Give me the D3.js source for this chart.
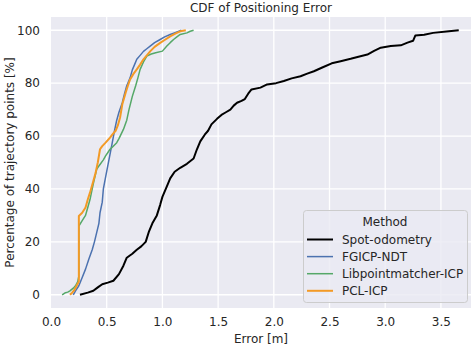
<!DOCTYPE html>
<html><head><meta charset="utf-8">
<script src="https://cdn.jsdelivr.net/npm/d3@7"></script>
<style>body{margin:0;background:#fff}svg{display:block}text{font-family:"DejaVu Sans",sans-serif}</style>
</head><body><svg id="c" width="474" height="348"></svg>
<script>
const seriesNames = ["Spot-odometry","FGICP-NDT","Libpointmatcher-ICP","PCL-ICP"];
const seriesColors = ["#000000","#4c72b0","#55a868","#f39a26"];
const spotOdometry = [[0.26,0],[0.33,0.8],[0.38,1.5],[0.42,2.8],[0.46,4],[0.51,4.6],[0.56,5.3],[0.61,7.8],[0.65,11],[0.68,14],[0.73,15.5],[0.77,17],[0.81,18.3],[0.85,20],[0.88,24],[0.91,27],[0.95,30],[0.98,34],[1.0,37],[1.04,41],[1.07,44],[1.11,46.5],[1.16,48],[1.22,49.5],[1.28,51.5],[1.31,55],[1.34,58],[1.38,60.5],[1.41,62],[1.44,64.4],[1.49,66.5],[1.53,68],[1.57,69],[1.61,70],[1.64,71.5],[1.67,72.6],[1.71,73.3],[1.74,74],[1.77,76],[1.80,77.6],[1.88,78.3],[1.94,79.5],[2.02,80],[2.09,80.8],[2.16,81.8],[2.24,82.6],[2.30,83.6],[2.36,84.5],[2.44,86],[2.52,87.5],[2.60,88.3],[2.69,89.2],[2.76,90],[2.84,90.8],[2.90,92.2],[2.96,93.4],[3.05,94],[3.14,94.3],[3.20,95.3],[3.25,96],[3.27,98],[3.35,98.3],[3.43,99],[3.55,99.5],[3.66,100]];
const fgicpNdt = [[0.20,0],[0.22,1.5],[0.25,3.4],[0.28,6.5],[0.31,9.7],[0.34,13.5],[0.37,17],[0.39,20],[0.41,23.5],[0.43,27],[0.44,31],[0.46,35],[0.47,40],[0.49,44.5],[0.52,51],[0.55,57.5],[0.57,62],[0.59,66],[0.61,69],[0.64,72.6],[0.66,76],[0.68,79],[0.71,82],[0.73,85],[0.75,87],[0.77,89],[0.80,90.5],[0.83,92],[0.86,93],[0.89,94],[0.93,95.3],[0.98,96.5],[1.02,97.5],[1.07,98.4],[1.12,99.2],[1.17,100]];
const libpointmatcherIcp = [[0.10,0],[0.13,0.8],[0.15,1],[0.17,1.5],[0.20,2.5],[0.22,3.4],[0.24,5],[0.25,7],[0.25,26],[0.28,28],[0.31,30],[0.33,33],[0.35,36],[0.38,42],[0.41,47.4],[0.43,48.7],[0.47,51],[0.49,52.5],[0.53,55],[0.55,55.8],[0.59,57.5],[0.61,59],[0.65,62.5],[0.68,66],[0.70,70],[0.73,75],[0.76,79],[0.78,82],[0.80,85.2],[0.83,88],[0.86,90.2],[0.90,91],[0.94,91.5],[1.0,92.1],[1.04,94],[1.07,95.3],[1.10,96.5],[1.13,97.5],[1.16,98.4],[1.22,99],[1.25,99.6],[1.28,100]];
const pclIcp = [[0.17,0],[0.19,0.8],[0.21,1.8],[0.23,3.4],[0.25,5],[0.25,29.8],[0.28,31],[0.31,33],[0.33,36],[0.35,38.6],[0.38,43],[0.40,46],[0.42,50],[0.44,55],[0.46,56.2],[0.49,57.5],[0.53,59.4],[0.55,60.5],[0.58,62],[0.60,64],[0.62,67],[0.64,72],[0.67,76.4],[0.69,79],[0.71,81.4],[0.74,83.5],[0.77,85.2],[0.80,87],[0.83,89],[0.86,90.5],[0.89,92],[0.93,93.7],[0.98,95.2],[1.02,96.3],[1.07,97.7],[1.12,98.8],[1.16,99.6],[1.21,100]];
const allSeries = [spotOdometry, fgicpNdt, libpointmatcherIcp, pclIcp];
const xTicks = [0.0,0.5,1.0,1.5,2.0,2.5,3.0,3.5];
const yTicks = [0,20,40,60,80,100];

const svg = d3.select("#c");
const L=51, R=471, T=17, B=308;
const x = d3.scaleLinear().domain([0,3.77]).range([L,R]);
const y = d3.scaleLinear().domain([-5,105]).range([B,T]);
const ink = "#262626";

svg.append("rect").attr("x",L).attr("y",T).attr("width",R-L).attr("height",B-T).attr("fill","#eaeaf2");
const g = svg.append("g");
g.selectAll(".gx").data(xTicks.filter(d=>x(d)>L+1)).join("line")
  .attr("x1",d=>x(d)).attr("x2",d=>x(d)).attr("y1",T).attr("y2",B)
  .attr("stroke","#fff").attr("stroke-width",1.3);
g.selectAll(".gy").data(yTicks).join("line")
  .attr("x1",L).attr("x2",R).attr("y1",d=>y(d)).attr("y2",d=>y(d))
  .attr("stroke","#fff").attr("stroke-width",1.3);

const xAxis = svg.append("g").attr("transform",`translate(0,${B})`)
  .call(d3.axisBottom(x).tickValues(xTicks).tickFormat(d3.format(".1f")).tickSize(0).tickPadding(9));
const yAxis = svg.append("g").attr("transform",`translate(${L},0)`)
  .call(d3.axisLeft(y).tickValues(yTicks).tickSize(0).tickPadding(11));
[xAxis,yAxis].forEach(a=>{a.select(".domain").remove();
  a.selectAll("text").attr("font-size",12).attr("fill",ink).attr("font-family","DejaVu Sans");});

const line = d3.line().x(d=>x(d[0])).y(d=>y(d[1]));
const widths=[2,1.5,1.5,2];
allSeries.forEach((s,i)=>{
  svg.append("path").datum(s).attr("d",line).attr("fill","none")
    .attr("stroke",seriesColors[i]).attr("stroke-width",widths[i]).attr("stroke-linejoin","round");
});

svg.append("text").attr("x",(L+R)/2).attr("y",12).attr("text-anchor","middle")
  .attr("font-size",12).attr("fill",ink).text("CDF of Positioning Error");
svg.append("text").attr("x",(L+R)/2).attr("y",343).attr("text-anchor","middle")
  .attr("font-size",12).attr("fill",ink).text("Error [m]");
svg.append("text").attr("transform",`translate(14,${(T+B)/2}) rotate(-90)`).attr("text-anchor","middle")
  .attr("font-size",12).attr("fill",ink).text("Percentage of trajectory points [%]");

// legend
const lg = svg.append("g");
lg.append("rect").attr("x",303.5).attr("y",210.5).attr("width",164).attr("height",92).attr("rx",3)
  .attr("fill","#eaeaf2").attr("fill-opacity",0.8).attr("stroke","#cccccc").attr("stroke-width",1);
lg.append("text").attr("x",385).attr("y",226).attr("text-anchor","middle").attr("font-size",12).attr("fill",ink).text("Method");
seriesNames.forEach((n,i)=>{
  const yy = 239.5 + i*17.1;
  lg.append("line").attr("x1",307).attr("x2",333).attr("y1",yy).attr("y2",yy)
    .attr("stroke",seriesColors[i]).attr("stroke-width",widths[i]);
  lg.append("text").attr("x",342).attr("y",yy+4.3).attr("font-size",12).attr("fill",ink).text(n);
});
</script></body></html>
